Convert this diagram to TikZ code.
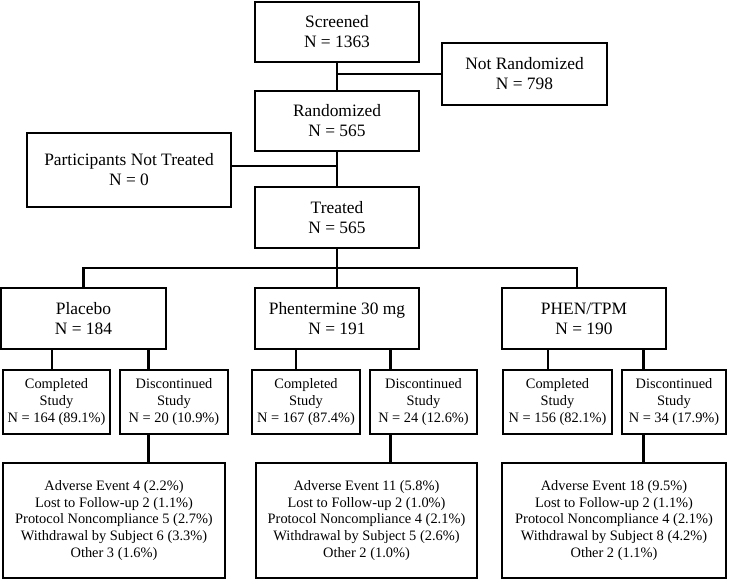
\documentclass[tikz,border=0pt]{standalone}
\usepackage{fontspec}
\setmainfont{Liberation Serif}
\begin{document}
\begin{tikzpicture}[x=1pt,y=-1pt,
  box/.style={draw,line width=2.5pt,inner sep=0pt,align=center,
    font=\fontsize{17.4}{20}\selectfont},
  sbox/.style={draw,line width=2.5pt,inner sep=0pt,align=center,
    font=\fontsize{14.4}{16.8}\selectfont},
  conn/.style={line width=2.5pt}]
\useasboundingbox (0,0) rectangle (731,580);
% top chain
\node[box,minimum width=164pt,minimum height=60pt] (scr) at (337,32) {Screened\\N = 1363};
\node[box,minimum width=165pt,minimum height=62pt] (nr) at (524.5,74) {Not Randomized\\N = 798};
\node[box,minimum width=164pt,minimum height=60pt] (ran) at (337,121) {Randomized\\N = 565};
\node[box,minimum width=204pt,minimum height=74pt] (pnt) at (129,170) {Participants Not Treated\\N = 0};
\node[box,minimum width=164pt,minimum height=61pt] (trt) at (337,217.5) {Treated\\N = 565};
% groups
\node[box,minimum width=165pt,minimum height=61pt] (pla) at (83.5,318.5) {Placebo\\N = 184};
\node[box,minimum width=164pt,minimum height=61pt] (phe) at (337,318.5) {Phentermine 30 mg\\N = 191};
\node[box,minimum width=164pt,minimum height=61pt] (tpm) at (584,318.5) {PHEN/TPM\\N = 190};
% completed / discontinued
\node[sbox,minimum width=107pt,minimum height=64pt] (pc) at (56.5,402) {Completed\\Study\\N = 164 (89.1\%)};
\node[sbox,minimum width=108pt,minimum height=64pt] (pd) at (174,402) {Discontinued\\Study\\N = 20 (10.9\%)};
\node[sbox,minimum width=108pt,minimum height=64pt] (mc) at (306,402) {Completed\\Study\\N = 167 (87.4\%)};
\node[sbox,minimum width=107pt,minimum height=64pt] (md) at (423.5,402) {Discontinued\\Study\\N = 24 (12.6\%)};
\node[sbox,minimum width=109pt,minimum height=64pt] (tc) at (557.5,402) {Completed\\Study\\N = 156 (82.1\%)};
\node[sbox,minimum width=104pt,minimum height=64pt] (td) at (674,402) {Discontinued\\Study\\N = 34 (17.9\%)};
% reasons
\node[sbox,minimum width=222pt,minimum height=115pt] (pr) at (114,520.5) {Adverse Event 4 (2.2\%)\\Lost to Follow-up 2 (1.1\%)\\Protocol Noncompliance 5 (2.7\%)\\Withdrawal by Subject 6 (3.3\%)\\Other 3 (1.6\%)};
\node[sbox,minimum width=221pt,minimum height=115pt] (mr) at (366.5,520.5) {Adverse Event 11 (5.8\%)\\Lost to Follow-up 2 (1.0\%)\\Protocol Noncompliance 4 (2.1\%)\\Withdrawal by Subject 5 (2.6\%)\\Other 2 (1.0\%)};
\node[sbox,minimum width=224pt,minimum height=115pt] (tr) at (614,520.5) {Adverse Event 18 (9.5\%)\\Lost to Follow-up 2 (1.1\%)\\Protocol Noncompliance 4 (2.1\%)\\Withdrawal by Subject 8 (4.2\%)\\Other 2 (1.1\%)};
% helper coordinates
\coordinate (bus) at (0,268);
\coordinate (tpmx) at (577,0);
\coordinate (pcx) at (52,0);
\coordinate (pdx) at (148.5,0);
\coordinate (mcx) at (296,0);
\coordinate (mdx) at (390.5,0);
\coordinate (tcx) at (548,0);
\coordinate (tdx) at (643.5,0);
% connectors
\draw[conn] (scr.south) -- (ran.north);
\draw[conn] (nr.west) -- (nr.west -| scr.south);
\draw[conn] (ran.south) -- (trt.north);
\draw[conn] ([yshift=4pt]pnt.east) -- ([yshift=4pt]pnt.east -| ran.south);
\draw[conn] (trt.south) -- (phe.north);
\draw[conn] (pla.north) -- (pla.north |- bus) -- (bus -| tpmx) -- (tpm.north -| tpmx);
\draw[conn] (pla.south -| pcx) -- (pc.north -| pcx);
\draw[conn] (pla.south -| pdx) -- (pd.north -| pdx);
\draw[conn] (pd.south -| pdx) -- (pr.north -| pdx);
\draw[conn] (phe.south -| mcx) -- (mc.north -| mcx);
\draw[conn] (phe.south -| mdx) -- (md.north -| mdx);
\draw[conn] (md.south -| mdx) -- (mr.north -| mdx);
\draw[conn] (tpm.south -| tcx) -- (tc.north -| tcx);
\draw[conn] (tpm.south -| tdx) -- (td.north -| tdx);
\draw[conn] (td.south -| tdx) -- (tr.north -| tdx);
\end{tikzpicture}
\end{document}
